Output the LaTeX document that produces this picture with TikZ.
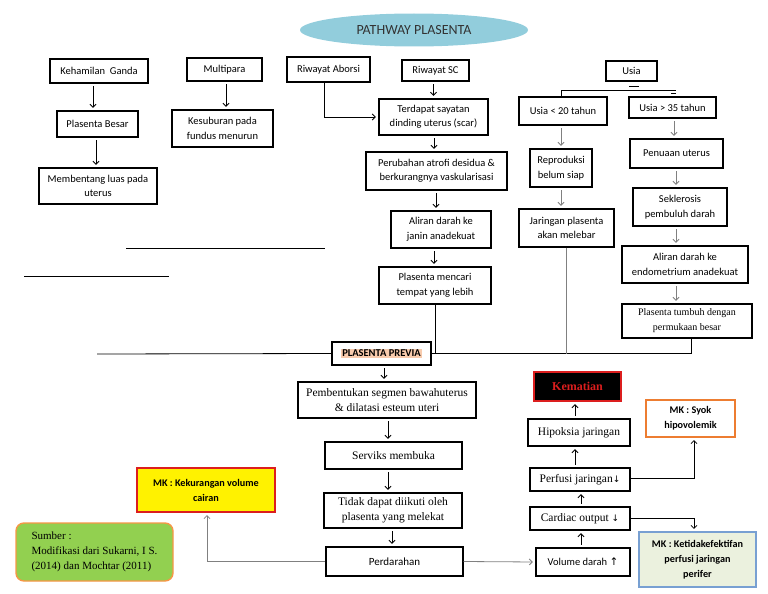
\documentclass[tikz,border=0pt]{standalone}
\usepackage{fontspec}
\setmainfont{Liberation Serif}
\setsansfont{Carlito}
\newfontfamily\arrowfont{DejaVu Sans}
\usetikzlibrary{arrows.meta,shapes.geometric}
\definecolor{titleblue}{RGB}{146,205,220}
\definecolor{peach}{RGB}{248,203,173}
\definecolor{mkred}{RGB}{220,30,30}
\definecolor{srcgreen}{RGB}{146,208,80}
\definecolor{srcorange}{RGB}{247,150,70}
\definecolor{syokorange}{RGB}{237,125,49}
\definecolor{ktdblue}{RGB}{120,160,210}
\definecolor{ktdfill}{RGB}{235,241,222}
\setlength\fboxsep{1.5pt}
\tikzset{% styles for the boxes and the connectors
   wh/.style 2 args={minimum width=#1, minimum height=#2},
   boxnode/.style={draw, line width=1.4pt, align=center, inner sep=1pt,
                   font=\sffamily\fontsize{10.5}{14.5}\selectfont},
   serifnode/.style={boxnode, font=\rmfamily\fontsize{11.5}{15}\selectfont},
   mknode/.style={boxnode, line width=1.2pt,
                  font=\sffamily\bfseries\fontsize{10.2}{15}\selectfont},
   link/.style={line width=0.8pt},
   arr/.style={link, -{Straight Barb[length=3pt,width=6pt]},
               shorten <=2.5pt, shorten >=2.5pt},
   grayarr/.style={arr, draw=gray}
}
\begin{document}
\begin{tikzpicture}[x=1pt,y=-1pt]
   \useasboundingbox (0,0) rectangle (768,594);
   \node[ellipse, fill=titleblue, wh={228}{33}, font=\sffamily\fontsize{14}{16}\selectfont,
         text=black!80] (title) at (414,30) {PATHWAY PLASENTA};
   % left causes
   \node[boxnode, wh={98}{24}] (kg) at (99,71) {Kehamilan~ Ganda};
   \node[boxnode, wh={81}{26}] (pb) at (97.5,124) {Plasenta Besar};
   \node[boxnode, wh={118}{36}] (mem) at (98,186) {Membentang luas pada\\uterus};
   \node[boxnode, wh={75}{23}] (multi) at (224.5,69.5) {Multipara};
   \node[boxnode, wh={101}{37}] (kes) at (222.5,128.5) {Kesuburan pada\\fundus menurun};
   \node[boxnode, wh={83}{25}] (abor) at (328.5,69.5) {Riwayat Aborsi};
   % middle column
   \node[boxnode, wh={67}{21}] (sc) at (435.5,70.5) {Riwayat SC};
   \node[boxnode, wh={109}{36}] (ter) at (433.5,117) {Terdapat sayatan\\dinding uterus (scar)};
   \node[boxnode, wh={141}{38}] (per) at (436.5,171) {Perubahan atrofi desidua \&\\berkurangnya vaskularisasi};
   \node[boxnode, wh={100}{37}] (aj) at (441,229.5) {Aliran darah ke\\janin anadekuat};
   \node[boxnode, wh={112}{37}] (pm) at (435,285.5) {Plasenta mencari\\tempat yang lebih};
   \node[boxnode, wh={99}{23}, font=\sffamily\bfseries\fontsize{10.5}{12}\selectfont]
        (pp) at (381.5,353.5) {\colorbox{peach}{PLASENTA PREVIA}};
   % age column
   \node[boxnode, wh={51}{20}] (usia) at (631.5,71) {Usia};
   \node[boxnode, wh={88}{28}] (u20) at (563,111) {Usia < 20 tahun};
   \node[boxnode, wh={87}{21}] (u35) at (672.5,107.5) {Usia > 35 tahun};
   \node[boxnode, wh={62}{38}] (rep) at (561,168) {Reproduksi\\belum siap};
   \node[boxnode, wh={95}{38}] (jar) at (566.5,228) {Jaringan plasenta\\akan melebar};
   \node[boxnode, wh={93}{29}] (pen) at (676.5,153.5) {Penuaan uterus};
   \node[boxnode, wh={94}{38}] (sek) at (680,207) {Seklerosis\\pembuluh darah};
   \node[boxnode, wh={126}{37}] (ade) at (685,264.5) {Aliran darah ke\\endometrium anadekuat};
   \node[serifnode, wh={130}{34}, font=\rmfamily\fontsize{10}{15}\selectfont]
        (tum) at (687,321) {Plasenta tumbuh dengan\\permukaan besar};
   % consequences
   \node[serifnode, wh={178}{36}] (seg) at (387,400) {Pembentukan segmen bawahuterus\\\& dilatasi esteum uteri};
   \node[serifnode, wh={137}{27}] (ser) at (393.5,455.5) {Serviks membuka};
   \node[serifnode, wh={138}{35}] (tid) at (393,510.5) {Tidak dapat diikuti oleh\\plasenta yang melekat};
   \node[boxnode, wh={137}{29}, font=\sffamily\fontsize{11}{14}\selectfont] (pdr) at (394.5,561.5) {Perdarahan};
   \node[mknode, wh={138}{44}, fill=yellow, draw=mkred] (mkc) at (206,490) {MK : Kekurangan volume\\cairan};
   \node[draw=srcorange, fill=srcgreen, line width=1.4pt, rounded corners=8pt, wh={157}{58},
         align=left, font=\rmfamily\fontsize{11}{15}\selectfont]
        (sum) at (94.5,552) {Sumber :\\Modifikasi dari Sukarni, I S.\\(2014) dan Mochtar (2011)};
   \node[boxnode, wh={94}{28}] (vol) at (583,562) {Volume darah {\arrowfont ↑}};
   \node[serifnode, wh={100}{23}] (co) at (580,518.5) {Cardiac output {\arrowfont\small ↓}};
   \node[serifnode, wh={100}{23}] (pf) at (580,479.5) {Perfusi jaringan{\arrowfont\small ↓}};
   \node[serifnode, wh={102}{27}] (hip) at (579,432.5) {Hipoksia jaringan};
   \node[serifnode, wh={87}{29}, fill=black, draw=mkred, text=mkred,
         font=\rmfamily\bfseries\fontsize{12}{14}\selectfont] (kem) at (577.5,386.5) {Kematian};
   \node[mknode, wh={89}{37}, draw=syokorange] (syok) at (690.5,418.5) {MK : Syok\\hipovolemik};
   \node[mknode, wh={117}{55}, draw=ktdblue, fill=ktdfill] (ktd) at (697.5,559.5)
        {MK : Ketidakefektifan\\perfusi jaringan\\perifer};
   % loose lines
   \coordinate (la) at (126,248); \coordinate (lb) at (325,248);
   \coordinate (lc) at (24,276);  \coordinate (ld) at (169,276);
   \coordinate (le) at (97,354);  \coordinate (uj) at (676,90);
   \draw[link] (la) -- (lb);
   \draw[link] (lc) -- (ld);
   \draw[link] (le) -- (pp.west);
   \draw[link] ([xshift=-2pt]u20.north) |- (uj);
   \draw[link] ([xshift=-2.5pt,yshift=-5pt]usia.south) -- ++(10,0);
   \draw[link] ([yshift=-3pt]uj) -- ++(-5,0);
   % lines into plasenta previa
   \draw[link] (pm.south) -- (pm.south |- pp.east);
   \draw[link] (pp.east) -| ([xshift=4pt]tum.south);
   \draw[link, gray] (jar.south) -- (jar.south |- pp.east);
   % downward arrows
   \foreach \a/\b/\s in {kg/pb/-4.5, pb/mem/-2, multi/kes/3.5, sc/ter/0, ter/per/-2.5,
                         per/aj/-5, aj/pm/-1, pp/seg/-3, seg/ser/-5.5, ser/tid/-5, tid/pdr/-2.5} {
      \draw[arr] ([xshift=\s pt]\b.north |- \a.south) -- ([xshift=\s pt]\b.north);
   }
   \foreach \a/\b/\s in {u20/rep/0, rep/jar/-5.5, u35/pen/-2.5, pen/sek/-4, sek/ade/-9, ade/tum/-11} {
      \draw[grayarr] ([xshift=\s pt]\b.north |- \a.south) -- ([xshift=\s pt]\b.north);
   }
   % upward arrows
   \foreach \a/\b/\s in {vol/co/1, co/pf/1, pf/hip/-4, hip/kem/-2.5} {
      \draw[arr] ([xshift=\s pt]\b.south |- \a.north) -- ([xshift=\s pt]\b.south);
   }
   \draw[arr, shorten <=0pt] ([xshift=-4.5pt]abor.south) |- (ter.west);
   \draw[grayarr, shorten <=0pt] (pdr.west) -| ([xshift=1pt]mkc.south);
   \draw[grayarr, shorten <=0pt] (pdr.east) -- (vol.west);
   \draw[arr, shorten <=0pt] ([yshift=1.5pt]pf.east) -| ([xshift=3.5pt]syok.south);
   \draw[arr, shorten <=0pt] (co.east) -| ([xshift=-3.5pt]ktd.north);
\end{tikzpicture}
\end{document}
